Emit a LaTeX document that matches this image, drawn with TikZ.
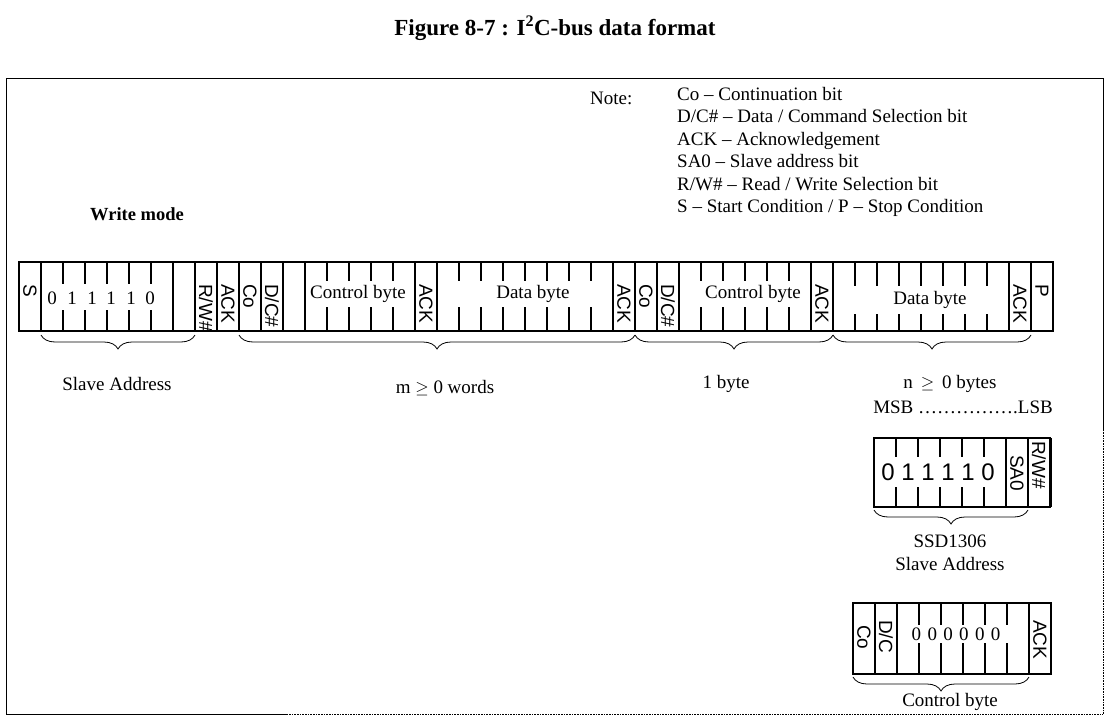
\documentclass[tikz,border=0pt]{standalone}
\usepackage{fontspec}
\setmainfont{Liberation Serif}
\setsansfont{Liberation Sans}
\usetikzlibrary{decorations.pathreplacing}
\begin{document}
\begin{tikzpicture}[x=1pt,y=-1pt,
  txt/.style={font=\fontsize{19}{22.5}\selectfont, inner sep=0pt},
  vlab/.style={rotate=-90, anchor=west, font=\sffamily\fontsize{19}{20}\selectfont, inner sep=0pt},
  wlab/.style={fill=white, inner sep=0pt, font=\fontsize{19}{22}\selectfont},
  cellln/.style={line width=1.6pt},
  boxln/.style={line width=2pt},
  brc/.style={decorate, decoration={brace, mirror, amplitude=14pt}, line width=0.8pt}]
\useasboundingbox (0,0) rectangle (1114,723);
% title
\node[font=\bfseries\fontsize{23}{26}\selectfont, inner sep=0pt] (title) at (555,28) {Figure 8-7 : I\textsuperscript{2}C-bus data format};
% frame
\draw[line width=1pt] (287,714) -- (6,714) -- (6,78) -- (1103,78) -- (1103,430);
\draw[line width=0.6pt, densely dotted] (1103,430) -- (1103,714) -- (287,714);
% note
\node[txt, anchor=base west] (note) at (590,104) {Note:};
\node[txt, anchor=north west, align=left] (notes) at (677,87) {Co -- Continuation bit\\D/C\# -- Data / Command Selection bit\\ACK -- Acknowledgement\\SA0 -- Slave address bit\\R/W\# -- Read / Write Selection bit\\S -- Start Condition / P -- Stop Condition};
\node[font=\bfseries\fontsize{18.5}{22}\selectfont, inner sep=0pt] (wm) at (137,214) {Write mode};
% main bar
\foreach \i in {1,...,46} \draw[cellln] (19+22*\i,262) -- (19+22*\i,331);
\draw[boxln] (19,262) rectangle (1053,331);
\node[wlab, minimum width=130pt, minimum height=26pt] (sa) at (107,297) {};
\foreach \d/\x in {0/52,1/72,1/92,1/111,1/131,0/150} \node[txt] at (\x,298) {\d};
\node[wlab, minimum width=104pt, minimum height=26pt] (cb1) at (358,294) {Control byte};
\node[wlab, minimum width=152pt, minimum height=26pt] (db1) at (533,294) {Data byte};
\node[wlab, minimum width=108pt, minimum height=26pt] (cb2) at (753,294) {Control byte};
\node[wlab, minimum width=154pt, minimum height=28pt] (db2) at (930,300) {Data byte};
\foreach \c/\t in {0/S,8/{R/W\#},9/ACK,10/Co,11/{D/C\#},18/ACK,27/ACK,28/Co,29/{D/C\#},36/ACK,45/ACK,46/P}
  \node[vlab] at (19+22*\c+11,284) {\t};
% braces
\draw[brc] (41,335) -- (195,335);
\draw[brc] (239,335) -- (635,335);
\draw[brc] (635,335) -- (833,335);
\draw[brc] (833,335) -- (1031,335);
\node[txt] (l1) at (117,384) {Slave Address};
\node[txt] (l2) at (445,388) {m $\geq$ 0 words};
\node[txt] (l3) at (726,384) {1 byte};
\node[txt] (l4) at (950,384) {n\, $\geq$\, 0 bytes};
\node[txt] (l5) at (963,407) {MSB \dots\dots\dots\dots\dots.LSB};
% SSD1306 slave address
\foreach \i in {1,...,7} \draw[cellln] (874+22*\i,438) -- (874+22*\i,507);
\draw[boxln] (874,438) rectangle (1050,507);
\draw[line width=3pt] (1050,438) -- (1050,507);
\node[fill=white, inner sep=0pt, minimum width=124pt, minimum height=30pt, font=\sffamily\fontsize{24}{26}\selectfont] (ssd) at (938,472) {0\;1\;1\;1\;1\;0};
\node[vlab] at (874+22*6+11,455) {SA0};
\node[vlab] at (874+22*7+11,441) {R/W\#};
\draw[brc] (874,510) -- (1028,510);
\node[txt, align=center] (l6) at (950,553) {SSD1306\\Slave Address};
% control byte
\foreach \i in {1,...,8} \draw[cellln] (853+22*\i,603) -- (853+22*\i,674);
\draw[boxln] (853,603) rectangle (1051,674);
\node[fill=white, inner sep=0pt, minimum width=116pt, minimum height=18pt, font=\fontsize{19}{20}\selectfont] (cbz) at (956,634) {0\,\,0\,\,0\,\,0\,\,0\,\,0};
\node[vlab] at (853+11,625) {Co};
\node[vlab] at (853+22+11,620) {D/C};
\node[vlab] at (853+22*8+11,620) {ACK};
\draw[brc] (853,677) -- (1029,677);
\node[txt] (l7) at (950,702) {Control byte};
\end{tikzpicture}
\end{document}
